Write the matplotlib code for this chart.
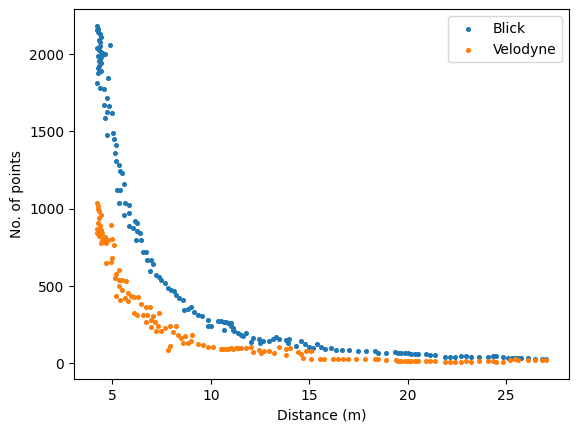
import matplotlib
matplotlib.use('Agg')
import matplotlib.pyplot as plt

# Blick sensor: distance (m) and number of points
blick_x = [4.24, 4.24, 4.29, 4.36, 4.42, 4.32, 4.39, 4.90, 4.24, 4.32, 4.41, 4.49, 4.63,
           4.29, 4.42, 4.32, 4.41, 4.29, 4.42, 4.29, 4.76, 4.19, 4.36, 4.59, 4.70, 4.59,
           4.81, 4.70, 5.00, 4.63, 4.70, 5.05, 5.10, 5.17, 5.14, 5.20, 5.31, 5.38, 5.51,
           5.59, 5.22, 5.37, 5.34, 5.65, 5.85, 4.27, 4.38, 4.35, 4.45, 4.30,
           5.60, 5.85, 6.16, 6.27, 5.85, 6.05, 6.27, 6.39, 6.22, 6.44, 6.53, 6.70, 6.78,
           6.95, 7.04, 6.92, 7.21, 7.38, 7.46, 7.68, 7.80, 7.97, 8.14, 8.23, 8.39, 8.56,
           8.65, 8.82, 8.99, 9.16, 9.33, 9.55, 9.83, 9.83, 10.00, 10.34, 10.52, 10.68,
           10.85, 10.68, 11.02, 11.14, 11.36,
           10.77, 11.02, 11.11, 11.19, 11.53, 11.79, 11.65, 12.12, 12.04, 12.47, 12.63,
           12.50, 12.97, 13.14, 13.32, 13.48, 13.82, 13.99, 13.91, 14.33, 14.59, 14.76,
           15.01, 15.18, 15.38, 15.61, 15.82, 16.11, 16.37, 16.67, 17.01, 17.47, 17.90,
           18.32, 18.49, 18.92, 19.34, 19.51, 19.68, 19.85, 20.01, 20.18, 20.35, 20.52,
           20.95, 21.12, 21.37, 21.88, 22.14, 22.39, 22.73, 22.98, 23.24, 23.63, 24.08,
           24.34, 24.51, 24.85, 25.10, 25.28, 25.44, 25.61, 25.78, 26.12, 26.46, 26.80,
           27.05]
blick_y = [2181, 2155, 2140, 2129, 2110, 2090, 2078, 2058, 2040, 2026, 2015, 2005, 2000,
           1987, 1983, 1957, 1940, 1910, 1893, 1877, 1845, 1813, 1783, 1774, 1716, 1669,
           1662, 1624, 1621, 1585, 1475, 1488, 1449, 1410, 1361, 1307, 1286, 1243, 1234,
           1159, 1123, 1123, 1039, 1039, 1026, 2165, 2050, 1970, 1995, 1925,
           961, 972, 918, 908, 886, 875, 854, 843, 800, 800, 718, 718, 671,
           671, 645, 596, 574, 559, 542, 521, 488, 477, 466, 445, 424, 408,
           348, 353, 366, 331, 316, 305, 284, 241, 241, 273, 273, 266,
           262, 219, 241, 215, 198,
           266, 262, 230, 208, 187, 194, 176, 166, 137, 159, 144,
           129, 144, 159, 170, 155, 150, 155, 129, 112, 144, 123,
           108, 101, 123, 108, 95, 101, 90, 90, 86, 79, 79,
           79, 69, 69, 73, 69, 66, 66, 69, 62, 58, 58,
           58, 52, 52, 43, 43, 43, 47, 47, 43, 43, 43,
           47, 47, 43, 37, 37, 37, 37, 37, 37, 30, 30,
           26]

# Velodyne sensor: distance (m) and number of points
velo_x = [4.24, 4.29, 4.32, 4.41, 4.29, 4.36, 4.92, 4.41, 4.24, 4.49, 4.32, 4.58, 4.75,
          5.00, 4.41, 4.66, 5.09, 4.27, 4.30, 4.35, 4.22, 4.38, 4.45, 4.55, 4.62,
          4.66, 4.95, 5.00, 5.34, 5.20, 5.14, 5.31, 5.51, 5.68, 5.34, 5.51, 5.20, 5.38,
          5.63, 5.81, 5.94, 6.10, 6.32, 5.81, 6.44, 6.70, 6.90, 6.10, 6.27, 6.56, 6.78,
          7.04, 7.34, 6.70, 6.95, 7.17, 7.29, 6.95, 7.21, 7.46, 7.68, 7.92, 8.23, 8.09,
          8.31, 8.48, 8.70, 9.04, 8.56, 8.82, 8.99, 7.92, 7.80, 9.33, 9.58, 9.83, 10.09,
          10.60, 10.85, 11.10, 11.36,
          10.52, 10.77, 11.02, 11.28, 11.53, 11.79, 12.04, 12.12, 12.47, 12.55, 12.72,
          12.97, 13.23, 13.48, 13.82, 14.03, 13.82, 14.41, 14.59, 14.81, 15.10, 14.69,
          15.10, 15.52, 15.77, 16.20, 16.45, 16.70, 16.96, 17.39, 17.81, 18.32, 18.49,
          18.92, 19.42, 19.51, 19.68, 19.85, 20.01, 20.18, 20.35, 20.52, 20.95, 21.12,
          21.37, 21.88, 22.14, 22.39, 22.73, 22.98, 23.24, 23.63, 24.08, 24.34, 24.51,
          24.85, 25.20, 25.44, 25.61, 26.12, 26.46, 26.80, 27.05]
velo_y = [1037, 1015, 983, 961, 908, 886, 897, 865, 843, 843, 821, 811, 800,
          804, 779, 779, 768, 1000, 940, 850, 870, 830, 800, 790, 815,
          650, 654, 682, 606, 581, 553, 542, 537, 531, 499, 477, 434, 413,
          424, 456, 434, 430, 430, 402, 381, 366, 366, 327, 316, 310, 316,
          305, 327, 266, 284, 266, 245, 237, 208, 208, 230, 241, 245, 202,
          181, 166, 176, 181, 134, 129, 144, 112, 86, 123, 116, 108, 108,
          95, 95, 95, 101,
          95, 95, 97, 97, 97, 100, 103, 73, 90, 69, 79,
          79, 69, 108, 95, 101, 52, 73, 58, 79, 79, 37,
          30, 30, 30, 30, 30, 30, 30, 30, 30, 26, 26,
          21, 21, 15, 15, 15, 15, 15, 15, 15, 15, 15,
          15, 8, 8, 8, 10, 15, 10, 15, 15, 15, 10,
          10, 20, 26, 22, 21, 21, 21, 21]

fig = plt.figure(figsize=(5.8, 4.32), dpi=100)
ax = fig.add_axes([0.1276, 0.1227, 0.8534, 0.8558])

ax.scatter(blick_x, blick_y, s=7, label='Blick')
ax.scatter(velo_x, velo_y, s=7, label='Velodyne')

ax.set_xlabel('Distance (m)')
ax.set_ylabel('No. of points')
ax.legend()

fig.savefig('out.png', dpi=100)
